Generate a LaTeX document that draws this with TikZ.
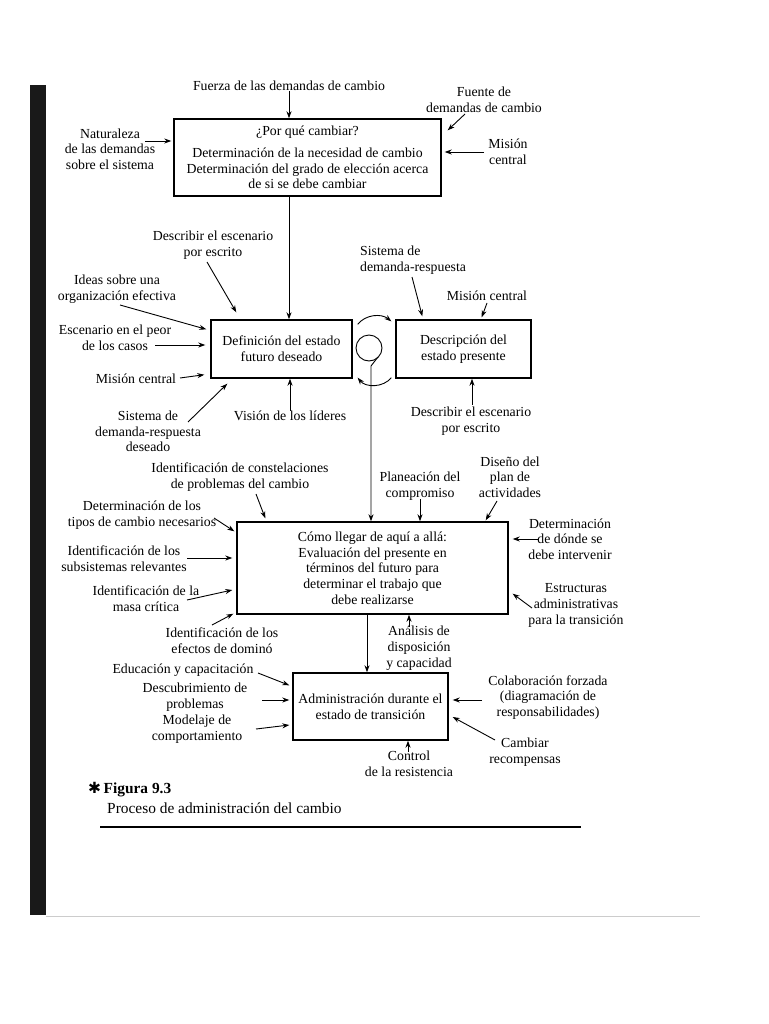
\documentclass[tikz,border=0pt]{standalone}
\usepackage{fontspec}
\setmainfont{Liberation Serif}
\newfontfamily\symfont{DejaVu Sans}
\usetikzlibrary{positioning, arrows.meta}
\newcommand{\txtfont}{\fontsize{13.8}{15.7}\selectfont}
\newcommand{\capfont}{\fontsize{15.4}{17}\selectfont}
\tikzset{>={Stealth[length=7pt,width=5pt]},
box/.style={draw, line width=1.4pt, align=center, inner sep=2pt, font=\txtfont},
lbl/.style={align=center, inner sep=0pt, font=\txtfont},
arr/.style={->, line width=0.9pt},
}

\begin{document}
\begin{tikzpicture}[x=1pt, y=-1pt]
    \useasboundingbox (0,0) rectangle (768,1024);
    \fill[black!90] (30,85) rectangle (46,915);
    \draw[black!20] (46,916) -- (700,916);

    % boxes
    \node[box, minimum width=267pt, minimum height=77pt] (porque) at (307.5,157.5)
        {¿Por qué cambiar?\\[6pt] Determinación de la necesidad de cambio\\
         Determinación del grado de elección acerca\\ de si se debe cambiar};
    \node[box, minimum width=141pt, minimum height=58pt] (futuro) at (281.5,349)
        {Definición del estado\\ futuro deseado};
    \node[box, minimum width=135pt, minimum height=58pt] (presente) at (463.5,349)
        {Descripción del\\ estado presente};
    \node[box, minimum width=271pt, minimum height=92pt] (llegar) at (372.5,568)
        {Cómo llegar de aquí a allá:\\ Evaluación del presente en\\
         términos del futuro para\\ determinar el trabajo que\\ debe realizarse};
    \node[box, minimum width=155pt, minimum height=67pt] (transic) at (370.5,706.5)
        {Administración durante el\\ estado de transición};

    % labels round the first box
    \node[lbl] (fuerza) at (289,86) {Fuerza de las demandas de cambio};
    \node[lbl] (fuente) at (484,100) {Fuente de\\ demandas de cambio};
    \node[lbl] (natur) at (110,149) {Naturaleza\\ de las demandas\\ sobre el sistema};
    \node[lbl] (mision1) at (508,152) {Misión\\ central};

    \draw[arr] (fuerza.south) -- (fuerza.south |- porque.north);
    \draw[arr] ([shift={(-19,14)}]fuente.center) -- ([shift={(6,12)}]porque.north east);
    \draw[arr] ([shift={(35,-8)}]natur.center) -- ([shift={(-2,-16.5)}]porque.west);
    \draw[arr] ([shift={(-24,0)}]mision1.center) -- ([shift={(3,-5.5)}]porque.east);
    \draw[arr] ([xshift=-18.5pt]porque.south) -- ([xshift=-18.5pt]porque.south |- futuro.north);

    % labels round the second row
    \node[lbl] (descr1) at (213,245) {Describir el escenario\\ por escrito};
    \node[lbl] (ideas) at (117,289) {Ideas sobre una\\ organización efectiva};
    \node[lbl] (peor) at (115,337.5) {Escenario en el peor\\ de los casos};
    \node[lbl] (mision2) at (136,379) {Misión central};
    \node[lbl] (sistd) at (148,431.5) {Sistema de\\ demanda-respuesta\\ deseado};
    \node[lbl] (vision) at (290,416) {Visión de los líderes};
    \node[lbl, anchor=west, align=left] (sistp) at (360,260.5) {Sistema de\\ demanda-respuesta};
    \node[lbl] (mision3) at (487,296) {Misión central};
    \node[lbl] (descr2) at (471,421) {Describir el escenario\\ por escrito};

    \draw[arr] ([shift={(-6,17)}]descr1.center) -- ([shift={(26,-7)}]futuro.north west);
    \draw[arr] ([shift={(3,16)}]ideas.center) -- ([shift={(-4,10)}]futuro.north west);
    \draw[arr] ([shift={(40,7.5)}]peor.center) -- ([shift={(-5,-4)}]futuro.west);
    \draw[arr] ([shift={(44,-1)}]mision2.center) -- ([shift={(-6,-4)}]futuro.south west);
    \draw[arr] ([shift={(40,-9.5)}]sistd.center) -- ([shift={(17,5)}]futuro.south west);
    \draw[arr] (vision.north) -- (vision.north |- futuro.south);
    \draw[arr] ([shift={(52,16.5)}]sistp.west) -- ([shift={(27,-3)}]presente.north west);
    \draw[arr] ([shift={(0,7)}]mision3.center) -- ([shift={(-50,-2)}]presente.north east);
    \draw[arr] ([shift={(1,-16)}]descr2.center) -- ([shift={(8.5,0)}]presente.south);

    % loop between the two states
    \draw[arr] ([shift={(5,5)}]futuro.north east) .. controls +(8,-10) and +(-10,-8) .. ([shift={(-4,2)}]presente.north west);
    \draw[arr] ([shift={(-4,-1)}]presente.south west) .. controls +(-8,10) and +(8,10) .. ([shift={(5,-1)}]futuro.south east);
    \coordinate (loop) at (369,348);
    \coordinate (loopin) at (378,357);
    \coordinate (loopend) at (371,366);
    \draw[line width=0.9pt] (loop) circle[radius=13pt];
    \draw[arr] (loopin) -- (loopend) -- (loopend |- llegar.north);

    % labels round the third box
    \node[lbl] (constel) at (240,477) {Identificación de constelaciones\\ de problemas del cambio};
    \node[lbl] (planea) at (420,486) {Planeación del\\ compromiso};
    \node[lbl] (diseno) at (510,477) {Diseño del\\ plan de\\ actividades};
    \node[lbl] (tipos) at (142,515.5) {Determinación de los\\ tipos de cambio necesarios};
    \node[lbl] (subsis) at (124,558.5) {Identificación de los\\ subsistemas relevantes};
    \node[lbl] (masa) at (146,599) {Identificación de la\\ masa crítica};
    \node[lbl] (domino) at (222,640.5) {Identificación de los\\ efectos de dominó};
    \node[lbl] (donde) at (570,539) {Determinación\\ de dónde se\\ debe intervenir};
    \node[lbl] (estruc) at (576,605.5) {Estructuras\\ administrativas\\ para la transición};
    \node[lbl] (analisis) at (419,648) {Análisis de\\ disposición\\ y capacidad};

    \draw[arr] ([shift={(16,17)}]constel.center) -- ([shift={(29,-3)}]llegar.north west);
    \draw[arr] ([shift={(0,13)}]planea.center) -- ([shift={(47.5,0)}]llegar.north);
    \draw[arr] ([shift={(-13,24)}]diseno.center) -- ([shift={(-23,-1)}]llegar.north east);
    \draw[arr] ([shift={(72,2.5)}]tipos.center) -- ([shift={(-2,10)}]llegar.north west);
    \draw[arr] ([shift={(63,-0.5)}]subsis.center) -- ([shift={(-4,-10)}]llegar.west);
    \draw[arr] ([shift={(41,1)}]masa.center) -- ([shift={(-4,22)}]llegar.west);
    \draw[arr] ([shift={(-10,-15.5)}]domino.center) -- ([shift={(-3,-1)}]llegar.south west);
    \draw[arr] ([shift={(-32,0)}]donde.center) -- ([shift={(4,-29)}]llegar.east);
    \draw[arr] ([shift={(-44,2.5)}]estruc.center) -- ([shift={(4,-21)}]llegar.south east);
    \draw[arr] ([shift={(-10,-21)}]analisis.center) -- ([shift={(36.5,0)}]llegar.south);
    \draw[arr] ([xshift=-5.5pt]llegar.south) -- ([xshift=-5.5pt]llegar.south |- transic.north);

    % labels round the last box
    \node[lbl] (educ) at (183,670) {Educación y capacitación};
    \node[lbl] (descub) at (195,697) {Descubrimiento de\\ problemas};
    \node[lbl] (modelaje) at (197,729) {Modelaje de\\ comportamiento};
    \node[lbl] (colab) at (548,697.5) {Colaboración forzada\\ (diagramación de\\ responsabilidades)};
    \node[lbl] (recomp) at (525,752) {Cambiar\\ recompensas};
    \node[lbl] (control) at (409,764) {Control\\ de la resistencia};

    \draw[arr] ([shift={(75,3)}]educ.center) -- ([shift={(-3,13)}]transic.north west);
    \draw[arr] ([shift={(67,3)}]descub.center) -- ([shift={(-3,-6.5)}]transic.west);
    \draw[arr] ([shift={(59,0)}]modelaje.center) -- ([shift={(-3,18.5)}]transic.west);
    \draw[arr] ([shift={(-66,2.5)}]colab.center) -- ([shift={(4,-6.5)}]transic.east);
    \draw[arr] ([shift={(-30,-12)}]recomp.center) -- ([shift={(4,10.5)}]transic.east);
    \draw[arr] ([shift={(-1,-12)}]control.center) -- ([shift={(37.5,0)}]transic.south);

    % caption
    \node[lbl, anchor=west, font=\capfont] (fig) at (88,790) {{\symfont\bfseries ✱}\,\textbf{Figura 9.3}};
    \node[lbl, anchor=west, font=\capfont] (proc) at (107,808) {Proceso de administración del cambio};
    \draw[line width=1.2pt] (100,827) -- (581,827);
\end{tikzpicture}
\end{document}
